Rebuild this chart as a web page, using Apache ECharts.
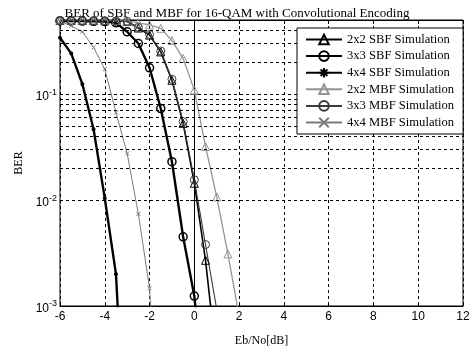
<!DOCTYPE html>
<html>
<head>
<meta charset="utf-8">
<script src="https://cdn.jsdelivr.net/npm/echarts@6/dist/echarts.min.js"></script>
<style>
  html, body { margin: 0; padding: 0; background: #fff; }
  #chart { width: 474px; height: 348px; }
</style>
</head>
<body>
<div id="chart"></div>
<script>
// Eb/No sample points (dB)
const ebNo = [-6, -5.5, -5, -4.5, -4, -3.5, -3, -2.5, -2, -1.5, -1, -0.5, 0, 0.5, 1, 1.5, 2];

// Simulated BER per configuration (null = no sample)
const sbf2x2 = [0.495, 0.495, 0.494, 0.493, 0.492, 0.49, 0.485, 0.42, 0.36, 0.25, 0.135, 0.053, 0.0144, 0.0027, 0.0003, null, null];
const sbf3x3 = [0.49, 0.49, 0.488, 0.486, 0.483, 0.47, 0.387, 0.30, 0.177, 0.073, 0.023, 0.0045, 0.00124, 0.0001, null, null, null];
const sbf4x4 = [0.34, 0.242, 0.124, 0.0465, 0.0104, 0.002, 0.00002, null, null, null, null, null, null, null, null, null, null];
const mbf2x2 = [0.5, 0.5, 0.5, 0.499, 0.498, 0.495, 0.49, 0.47, 0.45, 0.417, 0.32, 0.217, 0.109, 0.032, 0.0107, 0.0031, 0.0008];
const mbf3x3 = [0.495, 0.495, 0.494, 0.493, 0.492, 0.49, 0.485, 0.425, 0.365, 0.255, 0.138, 0.055, 0.0155, 0.0038, 0.00093, 0.0002, null];
const mbf4x4 = [0.49, 0.44, 0.387, 0.275, 0.172, 0.067, 0.0275, 0.0074, 0.00147, 0.00002, null, null, null, null, null, null, null];

const seriesNames = ['2x2 SBF Simulation', '3x3 SBF Simulation', '4x4 SBF Simulation',
                     '2x2 MBF Simulation', '3x3 MBF Simulation', '4x4 MBF Simulation'];

// Minor log grid levels (2..9 per decade)
const minorGrid = [0.002, 0.003, 0.004, 0.005, 0.006, 0.007, 0.008, 0.009,
                   0.02, 0.03, 0.04, 0.05, 0.06, 0.07, 0.08, 0.09,
                   0.2, 0.3, 0.4];

const pairs = vals => ebNo.map((x, i) => [x, vals[i]]);

const crossSym = 'path://M0,0L10,10M10,0L0,10';
const starSym = 'path://M5,0L5,10M0,5L10,5M1.5,1.5L8.5,8.5M8.5,1.5L1.5,8.5';

function curve(name, vals, color, width, symbol, size, borderW) {
  return {
    name, type: 'line', data: pairs(vals),
    clip: true, connectNulls: false,
    symbol, symbolSize: size, showAllSymbol: true,
    lineStyle: { color, width },
    itemStyle: { color: 'rgba(0,0,0,0)', borderColor: color, borderWidth: borderW },
    emphasis: { disabled: true },
    z: 3
  };
}

const serif = 'Liberation Serif';
const sans = 'Liberation Sans';
const dash = { type: [3, 3], color: '#000', width: 1 };

const chart = echarts.init(document.getElementById('chart'), null, { renderer: 'canvas' });
chart.setOption({
  animation: false,
  backgroundColor: '#fff',
  title: {
    text: 'BER of SBF and MBF for 16-QAM with Convolutional Encoding',
    left: 'center', top: 2,
    textStyle: { fontFamily: serif, fontSize: 13, fontWeight: 'normal', color: '#000' }
  },
  grid: {
    left: 60, right: 11, top: 20, bottom: 42,
    outerBoundsMode: 'none', containLabel: false,
    show: true, borderColor: '#000', borderWidth: 1, backgroundColor: '#fff'
  },
  legend: {
    data: seriesNames,
    orient: 'vertical',
    left: 297, top: 28,
    z: 20,
    itemWidth: 36, itemHeight: 12, itemGap: 3.6,
    padding: [5, 9, 5, 8],
    backgroundColor: '#fff', borderColor: '#000', borderWidth: 1,
    selectedMode: false,
    textStyle: { fontFamily: serif, fontSize: 12.6, color: '#000' }
  },
  xAxis: [{
    type: 'value', min: -6, max: 12, interval: 2,
    name: 'Eb/No[dB]', nameLocation: 'middle', nameGap: 29,
    nameTextStyle: { fontFamily: serif, fontSize: 12, color: '#000' },
    axisLine: { lineStyle: { color: '#000' } },
    axisTick: { inside: true, length: 4, lineStyle: { color: '#000' } },
    axisLabel: { fontFamily: sans, fontSize: 12, color: '#000', margin: 5 },
    splitLine: { show: true, lineStyle: dash }
  }, {
    type: 'value', position: 'top', min: -6, max: 12, interval: 2,
    axisLine: { lineStyle: { color: '#000' } },
    axisTick: { inside: true, length: 4, lineStyle: { color: '#000' } },
    axisLabel: { show: false }, splitLine: { show: false }
  }],
  yAxis: [{
    type: 'log', logBase: 10, min: 0.001, max: 0.5, splitNumber: 3,
    name: 'BER', nameLocation: 'middle', nameGap: 28,
    nameTextStyle: { fontFamily: serif, fontSize: 12, color: '#000' },
    axisLine: { lineStyle: { color: '#000' } },
    axisTick: { inside: true, length: 4, lineStyle: { color: '#000' } },
    axisLabel: {
      margin: 3, showMaxLabel: false,
      formatter: v => {
        const e = Math.round(Math.log10(v));
        if (Math.abs(v - Math.pow(10, e)) / v > 1e-6) return '';
        return '{b|10}{s|' + e + '}';
      },
      rich: {
        b: { fontFamily: sans, fontSize: 12, color: '#000', padding: [6, 0, 0, 0] },
        s: { fontFamily: sans, fontSize: 9, color: '#000', padding: [0, 0, 4, 0] }
      }
    },
    splitLine: { show: true, lineStyle: dash }
  }, {
    type: 'log', logBase: 10, min: 0.001, max: 0.5, splitNumber: 3, position: 'right',
    axisLine: { lineStyle: { color: '#000' } },
    axisTick: { inside: true, length: 4, lineStyle: { color: '#000' } },
    axisLabel: { show: false }, splitLine: { show: false }
  }],
  series: [
    {
      name: 'minor grid', type: 'line', data: [], silent: true,
      markLine: {
        silent: true, symbol: 'none', animation: false,
        label: { show: false },
        lineStyle: dash,
        emphasis: { disabled: true },
        data: minorGrid.map(v => ({ yAxis: v }))
      },
      z: 1
    },
    curve(seriesNames[0], sbf2x2, '#000', 1.6, 'triangle', 8, 1),
    curve(seriesNames[1], sbf3x3, '#000', 2.4, 'circle', 8, 1.5),
    curve(seriesNames[2], sbf4x4, '#000', 2.4, starSym, 4, 1.2),
    curve(seriesNames[3], mbf2x2, '#959595', 1.3, 'triangle', 8, 1),
    curve(seriesNames[4], mbf3x3, '#3a3a3a', 1.1, 'circle', 8, 1),
    curve(seriesNames[5], mbf4x4, '#7a7a7a', 1, crossSym, 4, 1)
  ]
});
</script>
</body>
</html>
